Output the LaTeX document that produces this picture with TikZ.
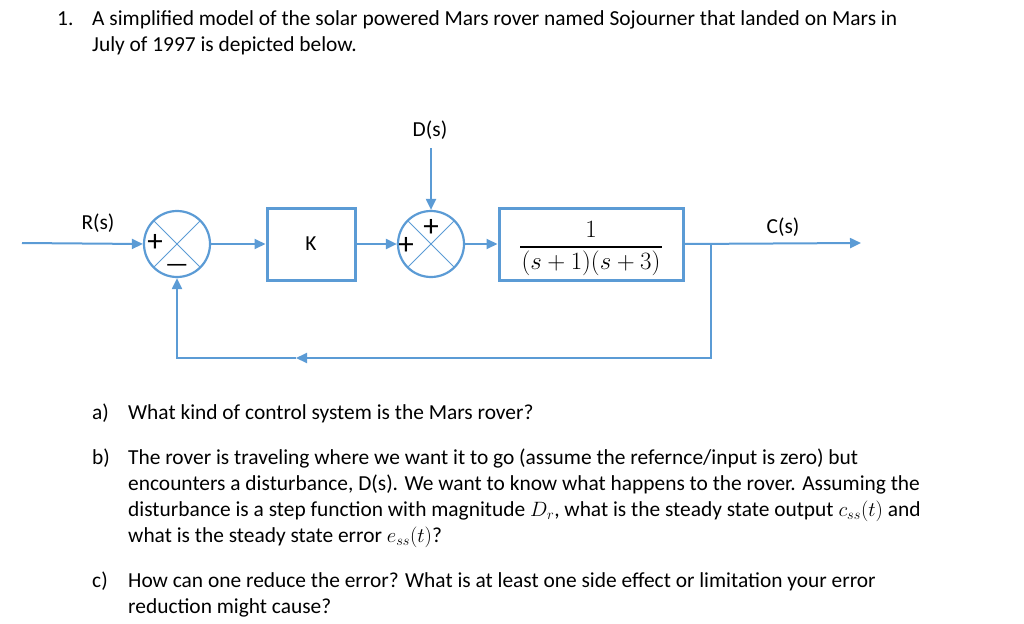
\documentclass[tikz,border=0pt]{standalone}
\usepackage{fontspec}
\setmainfont{Carlito}
\usetikzlibrary{arrows.meta}
\definecolor{lblue}{HTML}{5B9BD5}
\begin{document}
\begin{tikzpicture}[x=1pt,y=-1pt,
  every node/.style={font=\fontsize{21.4}{26}\selectfont, inner sep=0pt},
  txt/.style={anchor=base west},
  wire/.style={draw=lblue, line width=2pt},
  arr/.style={wire,-{Triangle[length=11pt,width=10pt]}},
  sumc/.style={circle, draw=lblue, line width=2.2pt, minimum size=66pt},
  blk/.style={draw=lblue, line width=3pt, minimum height=72pt},
  cross/.style={draw=lblue, line width=0.8pt},
  sgn/.style={font=\fontsize{31}{31}\selectfont},
  msgn/.style={font=\fontsize{26}{26}\selectfont},
  frac/.style={font=\fontsize{25}{25}\selectfont}
]
\useasboundingbox (0,0) rectangle (1024,623);

% header text
\node[txt] (n1) at (57,26) {1.};
\node[txt] (h1) at (92,26) {A simplified model of the solar powered Mars rover named Sojourner that landed on Mars in};
\node[txt] (h2) at (92,52) {July of 1997 is depicted below.};

% block diagram
\node[sumc] (s1) at (177,244) {};
\draw[cross] (s1.north west) -- (s1.south east);
\draw[cross] (s1.north east) -- (s1.south west);
\node[sgn] (p1) at (155,243) {+};
\node[msgn] (m1) at (177,268) {\textemdash};

\node[blk, minimum width=88pt] (K) at (311,244) {K};

\node[sumc] (s2) at (431,244) {};
\draw[cross] (s2.north west) -- (s2.south east);
\draw[cross] (s2.north east) -- (s2.south west);
\node[sgn] (p2) at (406,246) {+};
\node[sgn] (p3) at (431,228) {+};

\node[blk, minimum width=184pt] (G) at (591,244) {};
\node[frac] (num) at (591,229) {$1$};
\draw[line width=2pt] (520,247) -- (662,247);
\node[frac] (den) at (591,263) {$(s+1)(s+3)$};

\coordinate (in) at (22,243);
\coordinate (din) at (431,148);
\coordinate (br) at (711,243);
\coordinate (out) at (861,243);
\coordinate (fbm) at (296,358);

\node (R) at (98,223) {R(s)};
\node (D) at (430,130) {D(s)};
\node (C) at (783,227) {C(s)};

\draw[arr] (in) -- (s1.west);
\draw[arr] (s1.east) -- (K.west);
\draw[arr] (K.east) -- (s2.west);
\draw[arr] (din) -- (s2.north);
\draw[arr] (s2.east) -- (G.west);
\draw[arr] (G.east) -- (out);
\draw[arr] (br) |- (fbm);
\draw[arr] (fbm) -| (s1.south);

% questions
\node[txt] (qa) at (92,419) {a)};
\node[txt] (ta) at (128,419) {What kind of control system is the Mars rover?};
\node[txt] (qb) at (92,464) {b)};
\node[txt] (tb1) at (128,464) {The rover is traveling where we want it to go (assume the refernce/input is zero) but};
\node[txt] (tb2) at (128,490) {encounters a disturbance, D(s). We want to know what happens to the rover. Assuming the};
\node[txt] (tb3) at (128,516) {disturbance is a step function with magnitude $D_r$, what is the steady state output $c_{ss}(t)$ and};
\node[txt] (tb4) at (128,542) {what is the steady state error $e_{ss}(t)$?};
\node[txt] (qc) at (92,587) {c)};
\node[txt] (tc1) at (128,587) {How can one reduce the error? What is at least one side effect or limitation your error};
\node[txt] (tc2) at (128,613) {reduction might cause?};
\end{tikzpicture}
\end{document}
